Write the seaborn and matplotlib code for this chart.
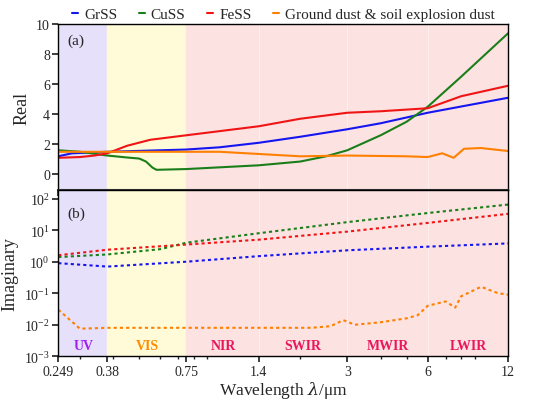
import numpy as np
import pandas as pd
import matplotlib
matplotlib.use("Agg")
import matplotlib.pyplot as plt
import seaborn as sns
from matplotlib.ticker import FixedLocator, NullFormatter, LogLocator

# real part (wavelength, value)
gr_re_x = [0.249, 0.28, 0.38, 0.75, 1.0, 1.4, 2.0, 3.0, 4.0, 6.0, 12.0]
gr_re_y = [1.2, 1.4, 1.5, 1.65, 1.8, 2.1, 2.5, 3.0, 3.4, 4.1, 5.1]
cu_re_x = [0.249, 0.3, 0.38, 0.45, 0.5, 0.53, 0.56, 0.58, 0.75, 1.4, 2.0, 2.5, 3.0, 4.0, 5.0, 6.0, 8.0, 12.0]
cu_re_y = [1.6, 1.5, 1.25, 1.12, 1.05, 0.85, 0.45, 0.3, 0.35, 0.6, 0.85, 1.2, 1.6, 2.6, 3.5, 4.5, 6.5, 9.4]
fe_re_x = [0.249, 0.3, 0.34, 0.38, 0.45, 0.55, 0.75, 1.4, 2.0, 3.0, 4.0, 6.0, 8.0, 12.0]
fe_re_y = [1.1, 1.15, 1.25, 1.4, 1.9, 2.3, 2.6, 3.2, 3.7, 4.1, 4.2, 4.4, 5.2, 5.9]
du_re_x = [0.249, 0.75, 1.0, 2.0, 3.0, 5.0, 6.0, 6.8, 7.5, 8.2, 9.5, 12.0]
du_re_y = [1.5, 1.5, 1.5, 1.2, 1.25, 1.2, 1.15, 1.4, 1.1, 1.7, 1.75, 1.55]

# imaginary part
gr_im_x = [0.249, 0.38, 0.75, 1.4, 3.0, 6.0, 12.0]
gr_im_y = [0.9, 0.7, 1.0, 1.5, 2.3, 3.0, 3.8]
cu_im_x = [0.249, 0.38, 0.6, 0.75, 1.4, 3.0, 6.0, 12.0]
cu_im_y = [1.4, 1.7, 2.5, 4.0, 8.0, 18.0, 35.0, 65.0]
fe_im_x = [0.249, 0.38, 0.75, 1.4, 3.0, 6.0, 12.0]
fe_im_y = [1.6, 2.4, 3.5, 5.0, 9.0, 17.0, 33.0]
du_im_x = [0.249, 0.3, 0.38, 2.2, 2.6, 2.9, 3.2, 4.0, 5.0, 5.5, 6.0, 7.0, 7.6, 8.0, 9.5, 11.0, 12.0]
du_im_y = [0.03, 0.0075, 0.008, 0.008, 0.009, 0.014, 0.01, 0.012, 0.016, 0.02, 0.04, 0.055, 0.035, 0.08, 0.16, 0.1, 0.09]

names = ["GrSS", "CuSS", "FeSS", "Ground dust & soil explosion dust"]
colors = ["#1515F0", "#1A7F1A", "#F01515", "#FF8000"]
regions = ["UV", "VIS", "NIR", "SWIR", "MWIR", "LWIR"]
region_x = [0.31, 0.535, 1.03, 2.05, 4.25, 8.5]
region_colors = ["#A020F0", "#FF8C00", "#E8175D", "#E8175D", "#E8175D", "#E8175D"]
xticks = [0.249, 0.38, 0.75, 1.4, 3, 6, 12]

sns.set_theme(style="white")
plt.rcParams["font.family"] = ["Liberation Serif", "DejaVu Serif"]
plt.rcParams["mathtext.fontset"] = "dejavuserif"

fig, (ax1, ax2) = plt.subplots(2, 1, figsize=(5.5, 4.06), dpi=100, sharex=True)
fig.subplots_adjust(left=0.106, right=0.924, top=0.938, bottom=0.12, hspace=0)

re = [(gr_re_x, gr_re_y), (cu_re_x, cu_re_y), (fe_re_x, fe_re_y), (du_re_x, du_re_y)]
im = [(gr_im_x, gr_im_y), (cu_im_x, cu_im_y), (fe_im_x, fe_im_y), (du_im_x, du_im_y)]

for ax in (ax1, ax2):
    ax.axvspan(0.249, 0.38, color="#E6E0FA", zorder=0)
    ax.axvspan(0.38, 0.75, color="#FFFBD8", zorder=0)
    ax.axvspan(0.75, 12, color="#FDE2E2", zorder=0)
    for v in [1.4, 3, 6]:
        ax.axvline(v, color="#FFEEEE", lw=0.8, zorder=0.5)
    for s in ax.spines.values():
        s.set_color("black")
        s.set_linewidth(1.0)

for (x, y), n, c in zip(re, names, colors):
    sns.lineplot(x=x, y=y, ax=ax1, color=c, lw=1.5, label=n)
for (x, y), n, c in zip(im, names, colors):
    sns.lineplot(x=x, y=y, ax=ax2, color=c, lw=1.5, linestyle=(0, (1.5, 1.5)), legend=False)

ax1.set_xscale("log")
ax1.set_xlim(0.249, 12)
ax1.set_ylim(-1.06, 10)
ax1.set_yticks([0, 2, 4, 6, 8, 10])
ax1.set_ylabel("Real", fontsize=13)
ax1.text(0.02, 0.88, "(a)", transform=ax1.transAxes, fontsize=11)
ax1.spines["bottom"].set_linewidth(1.5)
ax1.spines["bottom"].set_color("#333333")

ax2.set_yscale("log")
ax2.set_ylim(1e-3, 185)
ax2.set_yticks([1e-3, 1e-2, 1e-1, 1, 10, 100])
ax2.set_ylabel("Imaginary", fontsize=13)
ax2.text(0.02, 0.84, "(b)", transform=ax2.transAxes, fontsize=11)
for lab, xr, rc in zip(regions, region_x, region_colors):
    ax2.text(xr, 2.2e-3, lab, color=rc, ha="center", va="center", fontsize=10, fontweight="bold")

ax2.xaxis.set_major_locator(FixedLocator(xticks))
ax2.set_xticklabels([str(t) for t in xticks])
ax2.xaxis.set_minor_formatter(NullFormatter())
ax2.set_xlabel("Wavelength $\\lambda$/μm", fontsize=12.5, labelpad=1)

for ax in (ax1, ax2):
    ax.tick_params(axis="both", which="both", direction="out", left=True, bottom=True, labelsize=10, pad=2)
    ax.tick_params(which="major", length=4)
    ax.tick_params(which="minor", length=2)
ax2.yaxis.set_minor_locator(LogLocator(subs=[]))

h, l = ax1.get_legend_handles_labels()
ax1.legend(h, l, loc="lower center", bbox_to_anchor=(0.5, 0.98), ncol=4, frameon=False,
           handlelength=0.4, handletextpad=0.4, columnspacing=1.4, fontsize=11, borderaxespad=0)

fig.savefig("out.png", dpi=100)
